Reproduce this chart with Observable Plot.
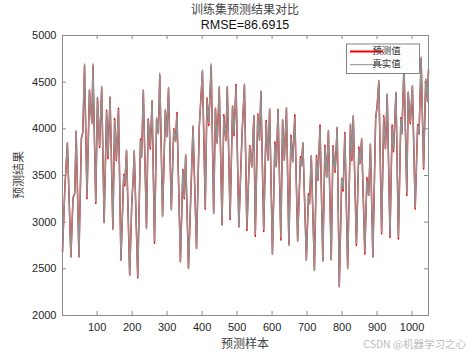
<!DOCTYPE html>
<html>
<head>
<meta charset="utf-8">
<script src="https://cdn.jsdelivr.net/npm/d3@7"></script>
<script src="https://cdn.jsdelivr.net/npm/@observablehq/plot@0.6"></script>
<style>
  html, body { margin: 0; padding: 0; background: #fff; }
  svg { display: block; }
</style>
</head>
<body>
<div id="chart"></div>
<script>
const sampleIdx = [1,8,15,25,31,36,40,48,55,59,64,71,78,85,88,96,101,107,113,120,127,131,137,145,150,155,161,168,176,179,184,193,199,203,206,216,224,227,232,241,246,252,257,264,270,275,279,287,295,299,304,312,319,324,328,338,345,349,353,361,374,384,392,401,409,414,419,426,433,438,443,449,457,462,468,472,480,487,491,497,505,514,521,528,536,542,548,552,559,564,568,576,583,588,593,601,608,612,617,625,630,635,641,648,654,659,665,673,681,684,688,698,704,707,712,721,727,731,737,745,751,756,761,769,774,780,786,792,799,803,808,816,824,828,832,841,848,851,856,865,871,876,881,888,896,900,905,913,919,924,929,937,943,947,954,961,968,971,977,985,989,995,1001,1009,1016,1020,1026,1033,1039,1044,1047];
const trueVals = [2700,3375,3855,2625,3270,3305,3980,2625,3910,3965,4695,3270,4420,4055,4695,3215,4340,3820,4455,2990,4180,3700,4345,2920,4090,3680,4205,2590,3500,3410,3775,2430,3215,3465,3770,2420,3875,3695,4420,2930,4095,3805,4305,2795,4120,3945,4595,3060,4205,3910,4445,3130,3990,3875,4155,2570,3555,3270,3725,2500,4035,2715,4020,4630,3160,4320,4055,4695,3090,4215,3840,4455,2965,4130,3875,4455,3045,4240,3945,4455,2945,3920,4480,2930,3805,3590,4145,2870,4145,3875,4410,2920,4070,3660,4215,2655,3840,3590,4215,2830,4090,3660,4230,2750,3910,3645,4130,2795,3680,3605,3855,2590,3285,3195,3715,2480,3695,3445,4020,2580,3805,3480,3985,2595,3805,3555,4020,2305,3465,3355,3945,2500,4055,3680,4145,2770,3785,3625,3895,2680,3455,3285,3840,2625,4105,4230,4520,2895,4125,3785,4375,2855,4020,3770,4395,2840,4105,3945,4695,3305,4395,4070,4465,3160,4035,3945,4770,3590,4535,4305,4645];
const predVals = [2680,3395,3845,2630,3255,3310,3970,2630,3895,3960,4675,3250,4410,4065,4675,3200,4330,3800,4440,3000,4200,3680,4335,2930,4110,3660,4220,2595,3510,3390,3765,2435,3200,3465,3760,2405,3890,3695,4405,2940,4105,3785,4295,2775,4110,3955,4575,3070,4200,3920,4430,3140,4000,3870,4175,2580,3565,3250,3715,2510,4020,2720,4030,4615,3140,4330,4035,4675,3100,4220,3850,4440,2975,4150,3875,4445,3025,4245,3925,4475,2950,3940,4470,2910,3820,3595,4140,2850,4160,3880,4395,2900,4090,3670,4205,2665,3860,3600,4205,2810,4095,3670,4220,2760,3930,3650,4150,2800,3700,3605,3845,2600,3305,3200,3710,2490,3715,3450,4040,2590,3825,3485,3975,2600,3820,3535,4010,2315,3470,3335,3960,2510,4045,3660,4135,2750,3805,3630,3890,2660,3475,3290,3830,2630,4120,4235,4510,2875,4140,3790,4365,2835,4040,3755,4385,2820,4120,3950,4680,3285,4390,4055,4455,3140,4045,3945,4750,3570,4525,4295,4625];
const xTicks = [100,200,300,400,500,600,700,800,900,1000];
const yTicks = [2000,2500,3000,3500,4000,4500,5000];
const titleText = "训练集预测结果对比";
const subtitleText = "RMSE=86.6915";
const xLabel = "预测样本";
const yLabel = "预测结果";
const legendLabels = ["预测值", "真实值"];
const watermark = "CSDN @机器学习之心";

const predData = sampleIdx.map((x, i) => ({x, y: predVals[i]}));
const trueData = sampleIdx.map((x, i) => ({x, y: trueVals[i]}));

const W = 474, H = 355, mT = 35, mB = 40, mL = 62, mR = 46;
const innerH = H - mT - mB, innerW = W - mL - mR;
const axisGray = "#8a8a8a";

const chart = Plot.plot({
  width: W, height: H,
  marginTop: mT, marginBottom: mB, marginLeft: mL, marginRight: mR,
  x: {domain: [1, 1047]},
  y: {domain: [2000, 5000]},
  style: {fontFamily: "'Liberation Sans', Arial, sans-serif", fontSize: "11px", color: "#262626", background: "#fff", overflow: "visible"},
  marks: [
    Plot.line(predData, {x: "x", y: "y", stroke: "#ff0000", strokeWidth: 1.5}),
    Plot.line(trueData, {x: "x", y: "y", stroke: "#929292", strokeWidth: 1.35}),
    Plot.tickX(xTicks, {x: d => d, stroke: axisGray, insetTop: innerH - 4}),
    Plot.tickX(xTicks, {x: d => d, stroke: axisGray, insetBottom: innerH - 4}),
    Plot.tickY(yTicks, {y: d => d, stroke: axisGray, insetRight: innerW - 4}),
    Plot.tickY(yTicks, {y: d => d, stroke: axisGray, insetLeft: innerW - 4}),
    Plot.frame({stroke: axisGray}),
    Plot.axisX({ticks: xTicks, tickFormat: d3.format("d"), tickSize: 0, tickPadding: 8, label: null}),
    Plot.axisY({ticks: yTicks, tickFormat: d3.format("d"), tickSize: 0, tickPadding: 6, label: null})
  ]
});
document.getElementById("chart").appendChild(chart);

const svg = d3.select(chart);
const cjk = "'Noto Sans CJK SC', sans-serif";
const cx = mL + innerW / 2;
svg.append("text").attr("x", cx).attr("y", 11).attr("text-anchor", "middle")
  .attr("dominant-baseline", "middle").attr("font-family", cjk).attr("font-size", 12)
  .attr("fill", "#444").text(titleText);
svg.append("text").attr("x", cx).attr("y", 25.5).attr("text-anchor", "middle")
  .attr("dominant-baseline", "middle").attr("font-family", "'Liberation Sans', Arial, sans-serif")
  .attr("font-size", 12.5).attr("fill", "#111").text(subtitleText);
svg.append("text").attr("x", cx).attr("y", 345).attr("text-anchor", "middle")
  .attr("dominant-baseline", "middle").attr("font-family", cjk).attr("font-size", 12)
  .attr("fill", "#444").text(xLabel);
svg.append("text").attr("transform", `translate(20,${mT + innerH / 2}) rotate(-90)`)
  .attr("text-anchor", "middle").attr("dominant-baseline", "middle")
  .attr("font-family", cjk).attr("font-size", 12).attr("fill", "#444").text(yLabel);
svg.append("text").attr("x", 466).attr("y", 345).attr("text-anchor", "end")
  .attr("dominant-baseline", "middle").attr("font-family", cjk).attr("font-size", 10.5)
  .attr("fill", "#bdbdbd").text(watermark);

// legend
const lg = svg.append("g");
lg.append("rect").attr("x", 346.5).attr("y", 44).attr("width", 73).attr("height", 29.5)
  .attr("fill", "#fff").attr("stroke", "#666").attr("stroke-width", 0.8);
const legendColors = ["#ff0000", "#8c8c8c"];
const legendWidths = [2, 1];
legendLabels.forEach((t, i) => {
  const yy = 51.6 + i * 13.1;
  lg.append("line").attr("x1", 350).attr("x2", 383).attr("y1", yy).attr("y2", yy)
    .attr("stroke", legendColors[i]).attr("stroke-width", legendWidths[i]);
  lg.append("text").attr("x", 386.5).attr("y", yy).attr("dominant-baseline", "middle")
    .attr("font-family", cjk).attr("font-size", 9.5).attr("fill", "#333").text(t);
});
</script>
</body>
</html>
